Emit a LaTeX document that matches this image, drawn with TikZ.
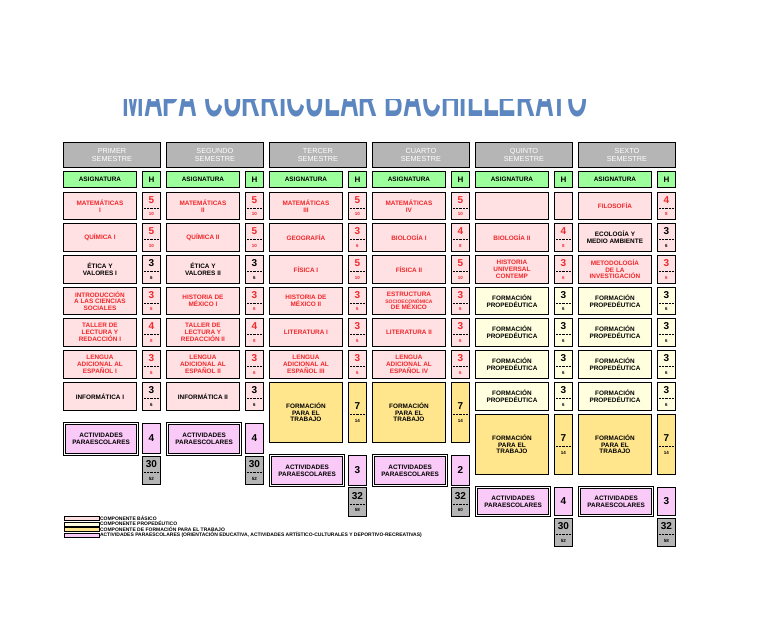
\documentclass[tikz,border=0pt]{standalone}
\usepackage{fontspec}
\setmainfont{Liberation Sans}
\begin{document}
\definecolor{pk}{HTML}{FFE0E3}
\definecolor{py}{HTML}{FFFFE0}
\definecolor{ty}{HTML}{FFE58C}
\definecolor{ac}{HTML}{F9C9F7}
\definecolor{gr}{HTML}{B5B5B5}
\definecolor{gn}{HTML}{9CFF9C}
\definecolor{rd}{HTML}{F0282A}
\definecolor{tb}{HTML}{5C86C0}
\newcommand\HrC[8]{%
 \node[hb,fill=#5,minimum height=#4pt] (#1) at (#2,#3) {};
 \node[text=#6,font=\fontsize{10}{10}\selectfont\bfseries,inner sep=0pt] (#1b) at ([yshift=6pt]#1.center) {#7};
 \draw[densely dotted,line width=0.4pt] ([xshift=2pt,yshift=-2pt]#1.west) -- ([xshift=-2pt,yshift=-2pt]#1.east);
 \node[text=#6,font=\fontsize{4.5}{4.5}\selectfont\bfseries,inner sep=0pt] (#1s) at ([yshift=-8pt]#1.center) {#8};}
\newcommand\SubC[7]{%
 \node[sub,fill=#5,text=#6,minimum height=#4pt] (#1) at (#2,#3) {#7};}
\begin{tikzpicture}[x=1pt,y=-1pt,
 box/.style={draw=black,line width=0.9pt,inner sep=1pt,anchor=north west,align=center,
   font=\fontsize{6.4}{6.7}\selectfont\bfseries},
 sub/.style={box,minimum width=73pt},
 hb/.style={box,minimum width=18pt},
 act/.style={box,fill=ac,minimum width=73pt,double=white,double distance=1pt,line width=1.2pt}]
\useasboundingbox (0,0) rectangle (768,638);
\fill[white] (0,0) rectangle (768,638);
\begin{scope}
\clip (100,99) rectangle (600,125);
\node[text=tb,font=\fontsize{26}{26}\selectfont\bfseries,inner sep=0pt] (title) at (355,99) {\scalebox{1}[2]{MAPA CURRICULAR BACHILLERATO}};
\end{scope}
\foreach \n/\x/\t in {1/63/PRIMER,2/166/SEGUNDO,3/269/TERCER,4/372/CUARTO,5/475/QUINTO,6/578/SEXTO}{
 \node[box,fill=gr,text=white,minimum width=97pt,minimum height=25pt,font=\fontsize{7.3}{7.3}\selectfont] (hd\n) at (\x,142) {\t\\SEMESTRE};
 \node[sub,fill=gn,minimum height=16pt] (as\n) at (\x,171) {ASIGNATURA};
 \node[hb,fill=gn,minimum height=16pt,font=\fontsize{8}{8}\selectfont\bfseries] (ah\n) at (\x+79,171) {H};
}
% column 1
\SubC{a11}{63}{192}{27}{pk}{rd}{MATEMÁTICAS\\I}\HrC{h11}{142}{192}{27}{pk}{rd}{5}{10}
\SubC{a12}{63}{223}{28}{pk}{rd}{QUÍMICA I}\HrC{h12}{142}{223}{28}{pk}{rd}{5}{10}
\SubC{a13}{63}{255}{28}{pk}{black}{ÉTICA Y\\VALORES I}\HrC{h13}{142}{255}{28}{pk}{black}{3}{6}
\SubC{a14}{63}{287}{27}{pk}{rd}{INTRODUCCIÓN\\A LAS CIENCIAS\\SOCIALES}\HrC{h14}{142}{287}{27}{pk}{rd}{3}{6}
\SubC{a15}{63}{318}{28}{pk}{rd}{TALLER DE\\LECTURA Y\\REDACCIÓN I}\HrC{h15}{142}{318}{28}{pk}{rd}{4}{8}
\SubC{a16}{63}{350}{28}{pk}{rd}{LENGUA\\ADICIONAL AL\\ESPAÑOL I}\HrC{h16}{142}{350}{28}{pk}{rd}{3}{6}
\SubC{a17}{63}{382}{28}{pk}{black}{INFORMÁTICA I}\HrC{h17}{142}{382}{28}{pk}{black}{3}{6}
\node[act,minimum height=31pt] (p1) at (64,423) {ACTIVIDADES\\PARAESCOLARES};
\node[hb,fill=ac,minimum height=30pt,font=\fontsize{10}{10}\selectfont\bfseries] (q1) at (142,423) {4};
\HrC{t1}{142}{456}{28}{gr}{black}{30}{52}
% column 2
\SubC{a21}{166}{192}{27}{pk}{rd}{MATEMÁTICAS\\II}\HrC{h21}{245}{192}{27}{pk}{rd}{5}{10}
\SubC{a22}{166}{223}{28}{pk}{rd}{QUÍMICA II}\HrC{h22}{245}{223}{28}{pk}{rd}{5}{10}
\SubC{a23}{166}{255}{28}{pk}{black}{ÉTICA Y\\VALORES II}\HrC{h23}{245}{255}{28}{pk}{black}{3}{6}
\SubC{a24}{166}{287}{27}{pk}{rd}{HISTORIA DE\\MÉXICO I}\HrC{h24}{245}{287}{27}{pk}{rd}{3}{6}
\SubC{a25}{166}{318}{28}{pk}{rd}{TALLER DE\\LECTURA Y\\REDACCIÓN II}\HrC{h25}{245}{318}{28}{pk}{rd}{4}{8}
\SubC{a26}{166}{350}{28}{pk}{rd}{LENGUA\\ADICIONAL AL\\ESPAÑOL II}\HrC{h26}{245}{350}{28}{pk}{rd}{3}{6}
\SubC{a27}{166}{382}{28}{pk}{black}{INFORMÁTICA II}\HrC{h27}{245}{382}{28}{pk}{black}{3}{6}
\node[act,minimum height=31pt] (p2) at (167,423) {ACTIVIDADES\\PARAESCOLARES};
\node[hb,fill=ac,minimum height=30pt,font=\fontsize{10}{10}\selectfont\bfseries] (q2) at (245,423) {4};
\HrC{t2}{245}{456}{28}{gr}{black}{30}{52}
% column 3
\SubC{a31}{269}{192}{27}{pk}{rd}{MATEMÁTICAS\\III}\HrC{h31}{348}{192}{27}{pk}{rd}{5}{10}
\SubC{a32}{269}{223}{28}{pk}{rd}{GEOGRAFÍA}\HrC{h32}{348}{223}{28}{pk}{rd}{3}{6}
\SubC{a33}{269}{255}{28}{pk}{rd}{FÍSICA I}\HrC{h33}{348}{255}{28}{pk}{rd}{5}{10}
\SubC{a34}{269}{287}{27}{pk}{rd}{HISTORIA DE\\MÉXICO II}\HrC{h34}{348}{287}{27}{pk}{rd}{3}{6}
\SubC{a35}{269}{318}{28}{pk}{rd}{LITERATURA I}\HrC{h35}{348}{318}{28}{pk}{rd}{3}{6}
\SubC{a36}{269}{350}{28}{pk}{rd}{LENGUA\\ADICIONAL AL\\ESPAÑOL III}\HrC{h36}{348}{350}{28}{pk}{rd}{3}{6}
\SubC{a37}{269}{382}{60}{ty}{black}{FORMACIÓN\\PARA EL\\TRABAJO}\HrC{h37}{348}{382}{60}{ty}{black}{7}{14}
\node[act,minimum height=30pt] (p3) at (270,455) {ACTIVIDADES\\PARAESCOLARES};
\node[hb,fill=ac,minimum height=30pt,font=\fontsize{10}{10}\selectfont\bfseries] (q3) at (348,455) {3};
\HrC{t3}{348}{487}{29}{gr}{black}{32}{58}
% column 4
\SubC{a41}{372}{192}{27}{pk}{rd}{MATEMÁTICAS\\IV}\HrC{h41}{451}{192}{27}{pk}{rd}{5}{10}
\SubC{a42}{372}{223}{28}{pk}{rd}{BIOLOGÍA I}\HrC{h42}{451}{223}{28}{pk}{rd}{4}{8}
\SubC{a43}{372}{255}{28}{pk}{rd}{FÍSICA II}\HrC{h43}{451}{255}{28}{pk}{rd}{5}{10}
\SubC{a44}{372}{287}{27}{pk}{rd}{ESTRUCTURA\\{\fontsize{5}{6}\selectfont SOCIOECONÓMICA}\\DE MÉXICO}\HrC{h44}{451}{287}{27}{pk}{rd}{3}{6}
\SubC{a45}{372}{318}{28}{pk}{rd}{LITERATURA II}\HrC{h45}{451}{318}{28}{pk}{rd}{3}{6}
\SubC{a46}{372}{350}{28}{pk}{rd}{LENGUA\\ADICIONAL AL\\ESPAÑOL IV}\HrC{h46}{451}{350}{28}{pk}{rd}{3}{6}
\SubC{a47}{372}{382}{60}{ty}{black}{FORMACIÓN\\PARA EL\\TRABAJO}\HrC{h47}{451}{382}{60}{ty}{black}{7}{14}
\node[act,minimum height=30pt] (p4) at (373,455) {ACTIVIDADES\\PARAESCOLARES};
\node[hb,fill=ac,minimum height=30pt,font=\fontsize{10}{10}\selectfont\bfseries] (q4) at (451,455) {2};
\HrC{t4}{451}{487}{29}{gr}{black}{32}{60}
% column 5
\SubC{a51}{475}{192}{27}{pk}{rd}{}\node[hb,fill=pk,minimum height=27pt] (h51) at (554,192) {};
\SubC{a52}{475}{223}{28}{pk}{rd}{BIOLOGÍA II}\HrC{h52}{554}{223}{28}{pk}{rd}{4}{8}
\SubC{a53}{475}{255}{28}{pk}{rd}{HISTORIA\\UNIVERSAL\\CONTEMP}\HrC{h53}{554}{255}{28}{pk}{rd}{3}{6}
\SubC{a54}{475}{287}{27}{py}{black}{FORMACIÓN\\PROPEDÉUTICA}\HrC{h54}{554}{287}{27}{py}{black}{3}{6}
\SubC{a55}{475}{318}{28}{py}{black}{FORMACIÓN\\PROPEDÉUTICA}\HrC{h55}{554}{318}{28}{py}{black}{3}{6}
\SubC{a56}{475}{350}{28}{py}{black}{FORMACIÓN\\PROPEDÉUTICA}\HrC{h56}{554}{350}{28}{py}{black}{3}{6}
\SubC{a57}{475}{382}{28}{py}{black}{FORMACIÓN\\PROPEDÉUTICA}\HrC{h57}{554}{382}{28}{py}{black}{3}{6}
\SubC{a58}{475}{414}{60}{ty}{black}{FORMACIÓN\\PARA EL\\TRABAJO}\HrC{h58}{554}{414}{60}{ty}{black}{7}{14}
\node[act,minimum height=28pt] (p5) at (476,487) {ACTIVIDADES\\PARAESCOLARES};
\node[hb,fill=ac,minimum height=28pt,font=\fontsize{10}{10}\selectfont\bfseries] (q5) at (554,487) {4};
\HrC{t5}{554}{518}{28}{gr}{black}{30}{52}
% column 6
\SubC{a61}{578}{192}{27}{pk}{rd}{FILOSOFÍA}\HrC{h61}{657}{192}{27}{pk}{rd}{4}{8}
\SubC{a62}{578}{223}{28}{pk}{black}{ECOLOGÍA Y\\MEDIO AMBIENTE}\HrC{h62}{657}{223}{28}{pk}{black}{3}{6}
\SubC{a63}{578}{255}{28}{pk}{rd}{METODOLOGÍA\\DE LA\\INVESTIGACIÓN}\HrC{h63}{657}{255}{28}{pk}{rd}{3}{6}
\SubC{a64}{578}{287}{27}{py}{black}{FORMACIÓN\\PROPEDÉUTICA}\HrC{h64}{657}{287}{27}{py}{black}{3}{6}
\SubC{a65}{578}{318}{28}{py}{black}{FORMACIÓN\\PROPEDÉUTICA}\HrC{h65}{657}{318}{28}{py}{black}{3}{6}
\SubC{a66}{578}{350}{28}{py}{black}{FORMACIÓN\\PROPEDÉUTICA}\HrC{h66}{657}{350}{28}{py}{black}{3}{6}
\SubC{a67}{578}{382}{28}{py}{black}{FORMACIÓN\\PROPEDÉUTICA}\HrC{h67}{657}{382}{28}{py}{black}{3}{6}
\SubC{a68}{578}{414}{60}{ty}{black}{FORMACIÓN\\PARA EL\\TRABAJO}\HrC{h68}{657}{414}{60}{ty}{black}{7}{14}
\node[act,minimum height=28pt] (p6) at (579,487) {ACTIVIDADES\\PARAESCOLARES};
\node[hb,fill=ac,minimum height=28pt,font=\fontsize{10}{10}\selectfont\bfseries] (q6) at (657,487) {3};
\HrC{t6}{657}{518}{28}{gr}{black}{32}{58}
% legend
\foreach \n/\c/\y/\t in {1/pk/516/COMPONENTE BÁSICO,2/py/521.5/COMPONENTE PROPEDÉUTICO,3/ty/527/COMPONENTE DE FORMACIÓN PARA EL TRABAJO,4/ac/532.5/{ACTIVIDADES PARAESCOLARES  (ORIENTACIÓN EDUCATIVA, ACTIVIDADES ARTÍSTICO-CULTURALES Y DEPORTIVO-RECREATIVAS)}}{
 \node[draw=black,line width=0.3pt,fill=\c,minimum width=35pt,minimum height=4.2pt,inner sep=0pt,anchor=north west] (lg\n) at (64,\y) {};
 \node[anchor=west,inner sep=0.5pt,font=\fontsize{5}{5}\selectfont\bfseries] (lt\n) at (lg\n.east) {\t};
}
\end{tikzpicture}
\end{document}
